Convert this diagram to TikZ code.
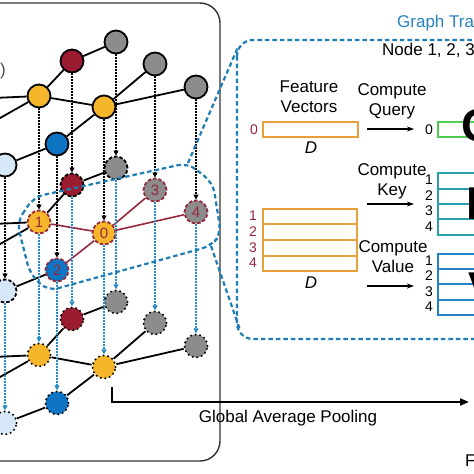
\documentclass[tikz,border=0pt]{standalone}
\usepackage{fontspec}
\setmainfont{Liberation Sans}
\usetikzlibrary{arrows.meta}
\definecolor{cyel}{RGB}{246,182,43}
\definecolor{cred}{RGB}{155,27,48}
\definecolor{cgray}{RGB}{140,140,140}
\definecolor{cblue}{RGB}{14,117,196}
\definecolor{clblue}{RGB}{214,232,248}
\definecolor{hlred}{RGB}{150,40,62}
\definecolor{corange}{RGB}{232,160,60}
\definecolor{cgreen}{RGB}{80,205,80}
\definecolor{cteal}{RGB}{40,160,175}
\definecolor{cval}{RGB}{40,130,200}
\definecolor{cdash}{RGB}{30,125,180}
\definecolor{ctitle}{RGB}{40,130,190}
\definecolor{carrow}{RGB}{40,140,200}
\begin{document}
\begin{tikzpicture}[x=1pt,y=-1pt,
  gn/.style={circle, draw=black, line width=1.8pt, minimum size=23pt, inner sep=0pt},
  gnb/.style={gn, dash pattern=on 3.5pt off 2pt},
  gnr/.style={gn, draw=hlred, dash pattern=on 3.5pt off 2pt, text=hlred, font=\fontsize{15}{15}\selectfont},
  gnc/.style={gn, line width=2.3pt, dash pattern=on 0pt off 4.6pt, line cap=round},
  gedge/.style={line width=1.8pt, black},
  redge/.style={line width=1.6pt, hlred},
  darr/.style={line width=1.1pt, black, dash pattern=on 1.5pt off 1.5pt, -{Triangle[length=5pt,width=5pt]}},
  barr/.style={line width=1.1pt, carrow, dash pattern=on 1.5pt off 1.5pt, -{Triangle[length=5pt,width=5pt]}},
  bdash/.style={cdash, line width=2.2pt, dash pattern=on 4.5pt off 3pt},
  txt/.style={font=\fontsize{17}{20}\selectfont, inner sep=0pt, align=center},
  lbl/.style={font=\fontsize{14}{14}\selectfont, inner sep=0pt},
  big/.style={font=\fontsize{46}{46}\selectfont\bfseries, inner sep=0pt},
  thinarr/.style={line width=1.1pt, -{Stealth[length=7pt,width=5pt]}}
]
\useasboundingbox (0,0) rectangle (474,474);
\clip (0,0) rectangle (474,474);
\fill[white] (0,0) rectangle (474,474);

% left frame
\draw[line width=1.4pt, black!80, rounded corners=20pt] (-30,3) rectangle (220,461);
\node[font=\fontsize{17}{17}\selectfont, text=black!70, inner sep=0pt] (tlab) at (3,71) {)};

% ---- layer 1 ----
\node[gn, fill=cgray] (a1) at (116,42) {};
\node[gn, fill=cred] (b1) at (72,61) {};
\node[gn, fill=cgray] (c1) at (155,64) {};
\node[gn, fill=cgray] (d1) at (196,87) {};
\node[gn, fill=cyel] (e1) at (39,96) {};
\node[gn, fill=cyel] (f1) at (104,107) {};
\node[gn, fill=cblue] (g1) at (57,144) {};
\node[gn, fill=clblue] (h1) at (5,165) {};
\coordinate (p1) at (-30,99);
\coordinate (q1) at (-30,135);

% ---- layer 2 ----
\node[gnb, fill=cgray] (a2) at (116,168) {};
\node[gnb, fill=cred] (b2) at (72,185) {};
\node[gnr, fill=cgray] (c2) at (155,190) {3};
\node[gnr, fill=cgray] (d2) at (196,212) {4};
\node[gnr, fill=cyel] (e2) at (39,222) {1};
\node[gnr, fill=cyel] (f2) at (104,233) {0};
\node[gnr, fill=cblue] (g2) at (57,270) {2};
\node[gnb, fill=clblue] (h2) at (5,291) {};
\coordinate (p2) at (-30,225);
\coordinate (q2) at (-30,261);

% ---- layer 3 ----
\node[gnc, fill=cgray] (a3) at (116,302) {};
\node[gnc, fill=cred] (b3) at (72,319) {};
\node[gnc, fill=cgray] (c3) at (155,323) {};
\node[gnc, fill=cgray] (d3) at (196,346) {};
\node[gnc, fill=cyel] (e3) at (39,355) {};
\node[gnc, fill=cyel] (f3) at (104,367) {};
\node[gnc, fill=cblue] (g3) at (57,403) {};
\node[gnc, fill=clblue] (h3) at (5,423) {};
\coordinate (p3) at (-30,358);
\coordinate (q3) at (-30,394);

% edges layer 1
\draw[gedge] (a1) -- (b1);
\draw[gedge] (b1) -- (e1);
\draw[gedge] (e1) -- (p1);
\draw[gedge] (e1) -- (q1);
\draw[gedge] (e1) -- (f1);
\draw[gedge] (f1) -- (c1);
\draw[gedge] (f1) -- (d1);
\draw[gedge] (f1) -- (g1);
\draw[gedge] (g1) -- (h1);
% edges layer 2
\draw[gedge] (a2) -- (b2);
\draw[gedge] (b2) -- (e2);
\draw[gedge] (e2) -- (p2);
\draw[gedge] (e2) -- (q2);
\draw[redge] (e2) -- (f2);
\draw[redge] (f2) -- (c2);
\draw[redge] (f2) -- (d2);
\draw[redge] (f2) -- (g2);
\draw[gedge] (g2) -- (h2);
% edges layer 3
\draw[gedge] (a3) -- (b3);
\draw[gedge] (b3) -- (e3);
\draw[gedge] (e3) -- (p3);
\draw[gedge] (e3) -- (q3);
\draw[gedge] (e3) -- (f3);
\draw[gedge] (f3) -- (c3);
\draw[gedge] (f3) -- (d3);
\draw[gedge] (f3) -- (g3);
\draw[gedge] (g3) -- (h3);

% vertical arrows
\foreach \n in {a,b,c,d,e,f,g,h}{
  \draw[darr] (\n1) -- (\n2);
  \draw[barr] (\n2) -- (\n3);
}

% highlight region and connectors
\coordinate (hc1) at (188,163);
\coordinate (hc2) at (211,246);
\draw[bdash, rounded corners=10pt] (17,222) -- (34,197) -- (hc1) -- (213,183) -- (221,234) -- (hc2) -- (48,291) -- (30,274) -- cycle;
\coordinate (bc1) at (238,47);
\coordinate (bc2) at (240,330);
\draw[bdash] (hc1) -- (bc1);
\draw[bdash] (hc2) -- (bc2);
\draw[bdash, rounded corners=16pt] (237,40) rectangle (520,339);

% titles
\node[txt, text=ctitle, anchor=west] (title) at (397,23) {Graph Transformer};
\node[txt, anchor=west] (nodes) at (382,50) {Node 1, 2, 3, 4};

% feature vectors
\node[txt] (fv) at (309,97) {Feature\\Vectors};
\node[lbl, text=hlred] (l0) at (254,130) {0};
\node[draw=corange, line width=1.4pt, minimum width=95pt, minimum height=15pt, inner sep=0pt] (r0) at (310.5,129.5) {};
\node[txt, font=\fontsize{17}{17}\selectfont\itshape] (d0) at (311,148) {D};

\node[lbl, text=hlred] (l1) at (253,216) {1};
\node[lbl, text=hlred] (l2) at (253,232) {2};
\node[lbl, text=hlred] (l3) at (253,248) {3};
\node[lbl, text=hlred] (l4) at (253,263) {4};
\draw[corange, line width=1.4pt] (263,209) rectangle (357,271);
\foreach \yy in {224,240,256}{ \draw[corange, line width=1.4pt] (263,\yy) -- (357,\yy); }
\node[txt, font=\fontsize{17}{17}\selectfont\itshape] (d1lbl) at (311,283) {D};

% compute labels and arrows
\node[txt] (cq) at (392,101) {Compute\\Query};
\node[txt] (ck) at (392,181) {Compute\\Key};
\node[txt] (cv) at (393,257) {Compute\\Value};
\coordinate (aq0) at (367,129); \coordinate (aq1) at (414,129);
\coordinate (ak0) at (367,204); \coordinate (ak1) at (414,204);
\coordinate (av0) at (367,286); \coordinate (av1) at (414,286);
\draw[thinarr] (aq0) -- (aq1);
\draw[thinarr] (ak0) -- (ak1);
\draw[thinarr] (av0) -- (av1);

% query
\node[lbl] (q0) at (429,130) {0};
\draw[cgreen, line width=1.4pt] (438,122) rectangle (490,137);
% keys
\node[lbl] (k1) at (429,180) {1};
\node[lbl] (k2) at (429,196) {2};
\node[lbl] (k3) at (429,211) {3};
\node[lbl] (k4) at (429,227) {4};
\draw[cteal, line width=1.4pt] (438,173) rectangle (490,235);
\foreach \yy in {189,204,219}{ \draw[cteal, line width=1.4pt] (438,\yy) -- (490,\yy); }
% values
\node[lbl] (v1) at (429,261) {1};
\node[lbl] (v2) at (429,276) {2};
\node[lbl] (v3) at (429,292) {3};
\node[lbl] (v4) at (429,307) {4};
\draw[cval, line width=1.4pt] (438,254) rectangle (490,315);
\foreach \yy in {269,284,300}{ \draw[cval, line width=1.4pt] (438,\yy) -- (490,\yy); }

% big letters
\node[big, anchor=west] (bq) at (461,130) {Q};
\node[big, anchor=west] (bk) at (466,204) {K};
\node[big, anchor=west] (bv) at (468,289) {V};

% global average pooling
\coordinate (gp0) at (112,387);
\coordinate (gp1) at (469,402);
\draw[line width=2pt, -{Triangle[length=9pt,width=7pt]}] (gp0) |- (gp1);
\node[txt] (gap) at (288,418) {Global Average Pooling};
\node[txt, anchor=west] (ftxt) at (465,461) {F};
\end{tikzpicture}
\end{document}
